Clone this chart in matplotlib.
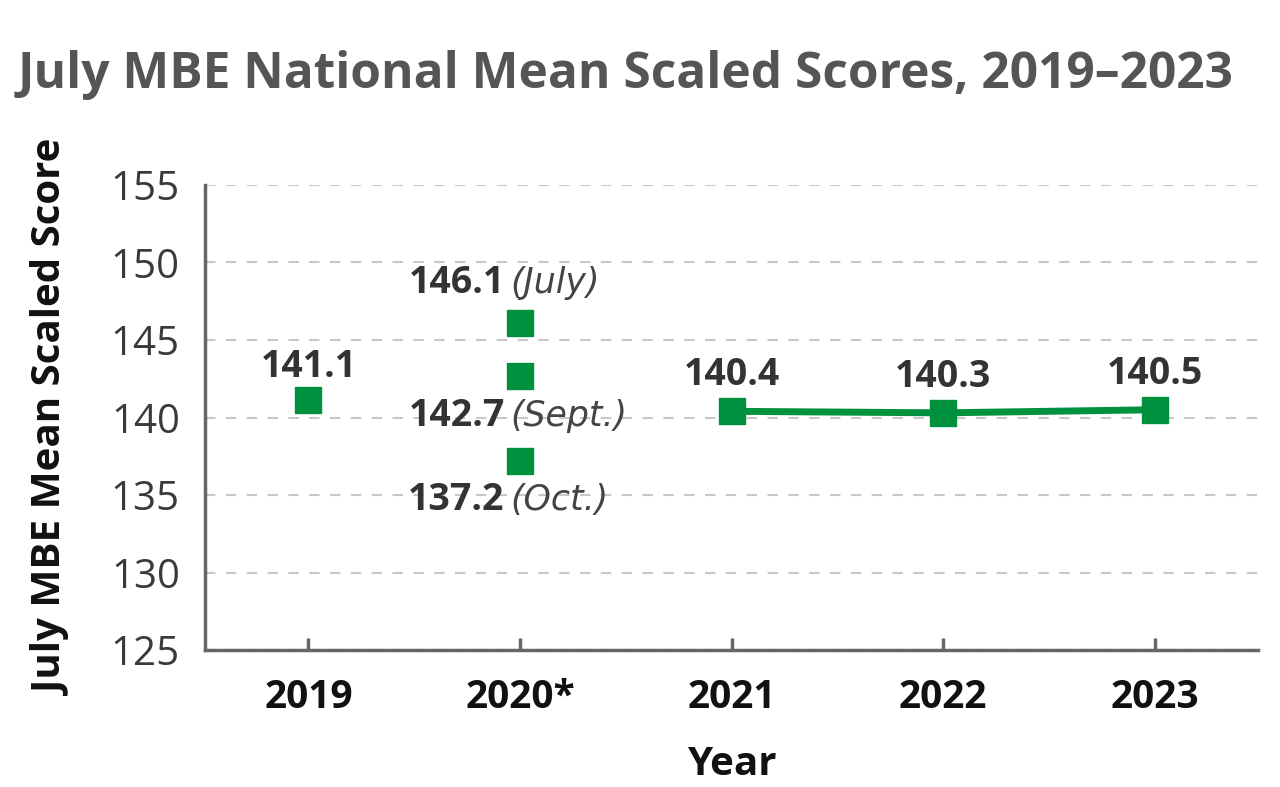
import matplotlib.pyplot as plt

years = ["2019", "2020*", "2021", "2022", "2023"]
score_2019 = 141.1
scores_2020 = [146.1, 142.7, 137.2]
months_2020 = ["(July)", "(Sept.)", "(Oct.)"]
scores_line = [140.4, 140.3, 140.5]

GREEN = "#00913f"
DARK = "#333333"

plt.rcParams["font.family"] = ["Open Sans", "DejaVu Sans"]

fig = plt.figure(figsize=(12.8, 7.87), dpi=100)
ax = fig.add_axes([0.160, 0.174, 0.823, 0.591])

# markers
ax.plot([0], [score_2019], "s", color=GREEN, ms=19, zorder=3)
ax.plot([1] * len(scores_2020), scores_2020, "s", color=GREEN, ms=19, lw=0, zorder=3)
ax.plot([2, 3, 4], scores_line, "s-", color=GREEN, ms=19, lw=5, zorder=3)

# value labels
lab = dict(fontsize=27, fontweight="bold", color=DARK)
ax.annotate(f"{score_2019}", (0, score_2019), xytext=(0, 24), textcoords="offset points",
            ha="center", va="center", **lab)
for x, v in zip([2, 3, 4], scores_line):
    ax.annotate(f"{v}", (x, v), xytext=(0, 26), textcoords="offset points",
                ha="center", va="center", **lab)

# 2020 labels: value bold + month italic
dys = [29, -29, -28]
for v, m, dy in zip(scores_2020, months_2020, dys):
    ax.annotate(f"{v}", (1, v), xytext=(-11, dy), textcoords="offset points",
                ha="right", va="center", **lab)
    ax.annotate(m, (1, v), xytext=(-7, dy), textcoords="offset points",
                ha="left", va="center", fontsize=25, fontstyle="italic",
                family="DejaVu Sans", color="#444444")

ax.set_xlim(-0.49, 4.49)
ax.set_ylim(125, 155)
ax.set_yticks(range(125, 156, 5))
ax.set_xticks(range(len(years)))
ax.set_xticklabels(years, fontsize=28, fontweight="bold", color="#111111")
ax.tick_params(axis="y", length=0, pad=18, labelsize=29, labelcolor="#3a3a3a")
ax.tick_params(axis="x", direction="in", length=9, width=2.5, color="#666666", pad=20)

ax.yaxis.grid(True, linestyle=(0, (5, 5)), color="#c8c8c8", lw=1.5)
ax.set_axisbelow(True)
for s in ["top", "right"]:
    ax.spines[s].set_visible(False)
for s in ["left", "bottom"]:
    ax.spines[s].set_color("#666666")
    ax.spines[s].set_linewidth(2.5)

ax.set_xlabel("Year", fontsize=29, fontweight="bold", color="#111111", labelpad=20)
ax.set_ylabel("July MBE Mean Scaled Score", fontsize=29, fontweight="bold",
              color="#111111", labelpad=28)

fig.text(0.014, 0.905, "July MBE National Mean Scaled Scores, 2019\u20132023",
         fontsize=35.7, fontweight="bold", color="#555555", ha="left", va="center")

fig.savefig("out.png", dpi=100)
